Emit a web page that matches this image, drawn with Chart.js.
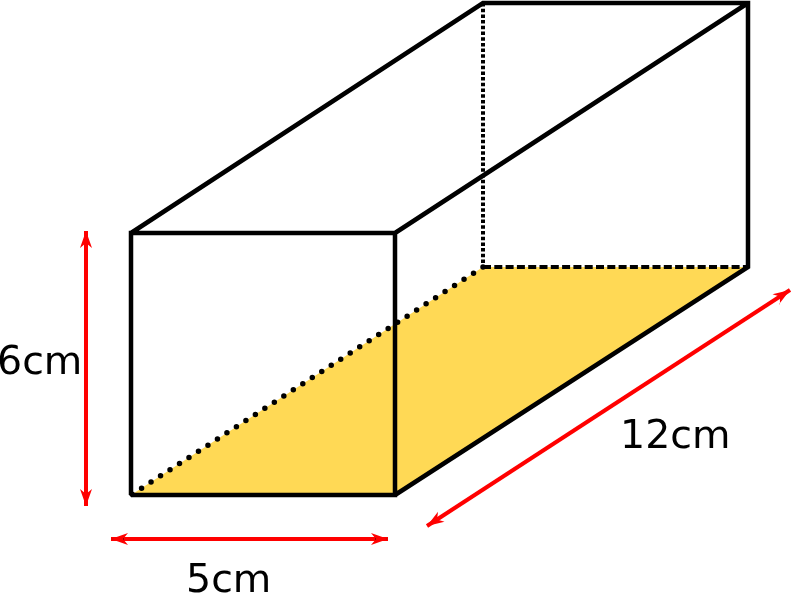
<!DOCTYPE html>
<html>
<head>
<meta charset="utf-8">
<title>Cuboid</title>
<script src="https://cdn.jsdelivr.net/npm/chart.js@4/dist/chart.umd.min.js"></script>
<style>
  html, body { margin: 0; padding: 0; background: #fff; overflow: hidden; }
  #wrap { width: 791px; height: 594px; }
</style>
</head>
<body>
<div id="wrap"><canvas id="chart" width="791" height="594"></canvas></div>
<script>
// Corners of the box
const baseX = [131, 395, 748, 483];
const baseY = [495, 495, 267, 267];
const solidX = [131, 131, 395, 395, 131, null, 131, 483, 748, 748, 395, null, 395, 748];
const solidY = [495, 233, 233, 495, 495, null, 233, 3, 3, 267, 495, null, 233, 3];
const backEdgeX = [483, 483];
const backEdgeY = [3, 267];
const floorEdgeX = [483, 748];
const floorEdgeY = [267, 267];
const dotX = [483, 131];
const dotY = [267, 495];

// Measure arrows: tail and tip of each double arrow
const arrowFromX = [86, 111, 427];
const arrowFromY = [506, 539, 526];
const arrowToX = [86, 388, 790];
const arrowToY = [231, 539, 290];

const labelTexts = ['6cm', '5cm', '12cm'];
const labelX = [-3, 186, 620];
const labelY = [374, 592, 448];

function xy(xs, ys) {
    return xs.map((x, i) => ({ x: x, y: x === null ? null : ys[i] }));
}

// Notched head for an arrow pointing from a to b
function arrowHead(ax, ay, bx, by, back, notch, half) {
    const len = Math.hypot(bx - ax, by - ay);
    const ux = (bx - ax) / len;
    const uy = (by - ay) / len;
    return [
        { x: bx, y: by },
        { x: bx - ux * back - uy * half, y: by - uy * back + ux * half },
        { x: bx - ux * notch, y: by - uy * notch },
        { x: bx - ux * back + uy * half, y: by - uy * back - ux * half },
        { x: bx, y: by }
    ];
}

function edge(xs, ys, width, dash, cap) {
    return {
        data: xy(xs, ys),
        showLine: true,
        borderColor: '#000',
        borderWidth: width,
        borderDash: dash,
        borderCapStyle: cap,
        pointRadius: 0,
        fill: false,
        order: 4
    };
}

function headSet(points, color) {
    return {
        data: points,
        showLine: true,
        borderWidth: 0,
        borderColor: 'rgba(0,0,0,0)',
        backgroundColor: color,
        fill: 'shape',
        pointRadius: 0,
        order: 1
    };
}

const datasets = [];

// Yellow floor
datasets.push({
    data: xy(baseX, baseY),
    showLine: true,
    borderWidth: 0,
    borderColor: 'rgba(0,0,0,0)',
    backgroundColor: '#ffd955',
    fill: 'shape',
    pointRadius: 0,
    order: 5
});

// Hidden edges
datasets.push(edge(backEdgeX, backEdgeY, 4, [3.5, 2.2], 'butt'));
datasets.push(edge(floorEdgeX, floorEdgeY, 4, [8, 3.3], 'butt'));
datasets.push(edge(dotX, dotY, 5.5, [0, 11.3], 'round'));

// Visible edges
const solid = edge(solidX, solidY, 4.5, [], 'butt');
solid.order = 3;
solid.borderJoinStyle = 'miter';
datasets.push(solid);

// Red measure arrows
arrowFromX.forEach((x, i) => {
    const tx = arrowToX[i], ty = arrowToY[i], fy = arrowFromY[i];
    const line = edge([x, tx], [fy, ty], 4, [], 'butt');
    line.borderColor = '#ff0000';
    line.order = 2;
    datasets.push(line);
    datasets.push(headSet(arrowHead(x, fy, tx, ty, 17, 12, 6), '#ff0000'));
    datasets.push(headSet(arrowHead(tx, ty, x, fy, 17, 12, 6), '#ff0000'));
    // the horizontal arrow has dark cores in its heads
    if (fy === ty) {
        datasets.push(headSet(arrowHead(x, fy, tx, ty, 13, 13, 2.2), '#3a1414'));
        datasets.push(headSet(arrowHead(tx, ty, x, fy, 13, 13, 2.2), '#3a1414'));
    }
});

// Size labels sit in the same coordinates as the box
const sizeLabels = {
    id: 'sizeLabels',
    afterDraw(chart) {
        const ctx = chart.ctx;
        ctx.save();
        ctx.fillStyle = '#000';
        ctx.font = '39.5px "DejaVu Sans"';
        ctx.textBaseline = 'alphabetic';
        labelTexts.forEach((t, i) => {
            ctx.fillText(t, chart.scales.x.getPixelForValue(labelX[i]), chart.scales.y.getPixelForValue(labelY[i]));
        });
        ctx.restore();
    }
};

new Chart(document.getElementById('chart'), {
    type: 'scatter',
    data: { datasets: datasets },
    plugins: [sizeLabels],
    options: {
        responsive: false,
        animation: false,
        devicePixelRatio: 1,
        clip: false,
        layout: { padding: 0 },
        plugins: { legend: { display: false }, tooltip: { enabled: false }, title: { display: false } },
        scales: {
            x: { type: 'linear', display: false, min: 0, max: 791 },
            y: { type: 'linear', display: false, min: 0, max: 594, reverse: true }
        }
    }
});
</script>
</body>
</html>
